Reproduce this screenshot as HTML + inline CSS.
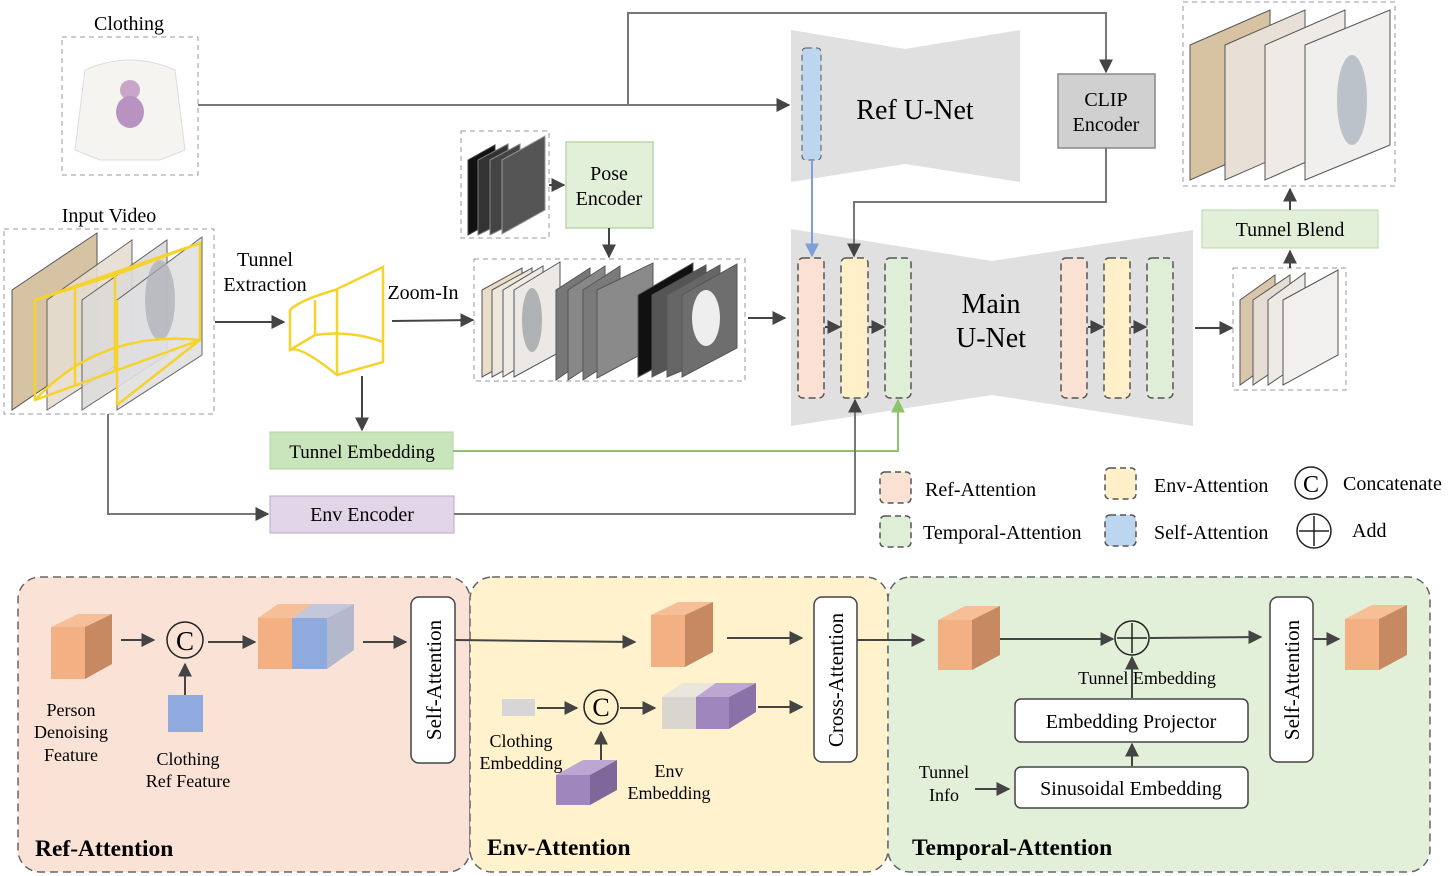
<!DOCTYPE html>
<html><head><meta charset="utf-8"><style>
html,body{margin:0;padding:0;background:#fff;}
svg{display:block;font-family:"Liberation Serif",serif;}
</style></head><body>
<svg width="1450" height="876" viewBox="0 0 1450 876" xmlns="http://www.w3.org/2000/svg">
<defs>
<marker id="a" viewBox="0 0 10 10" refX="9" refY="5" markerWidth="7" markerHeight="7" orient="auto"><path d="M0,0 L10,5 L0,10 z" fill="#444"/></marker>
<marker id="ab" viewBox="0 0 10 10" refX="9" refY="5" markerWidth="7" markerHeight="7" orient="auto"><path d="M0,0 L10,5 L0,10 z" fill="#7f9fd6"/></marker>
<marker id="ag" viewBox="0 0 10 10" refX="9" refY="5" markerWidth="7" markerHeight="7" orient="auto"><path d="M0,0 L10,5 L0,10 z" fill="#8cc46e"/></marker>
</defs>

<!-- Clothing -->
<text x="129" y="30" font-size="20" text-anchor="middle">Clothing</text>
<rect x="62" y="37" width="136" height="138" fill="none" stroke="#999" stroke-dasharray="5,4"/>
<path d="M85,70 Q130,50 175,70 L185,150 L160,160 L100,160 L75,150 Z" fill="#f6f4f0" stroke="#ddd"/>
<circle cx="130" cy="90" r="10" fill="#c9a6c9"/><ellipse cx="130" cy="112" rx="14" ry="16" fill="#b892c0"/>

<!-- Input video -->
<text x="109" y="222" font-size="20" text-anchor="middle">Input Video</text>
<rect x="4" y="229" width="210" height="185" fill="none" stroke="#999" stroke-dasharray="5,4"/>
<polygon points="12,290 97,233 97,352 12,410" fill="#d6c3a4" stroke="#555"/>
<polygon points="47,300 132,240 132,355 47,410" fill="#e6ddd0" stroke="#555" opacity="0.9"/>
<polygon points="82,300 167,240 167,355 82,410" fill="#dcdad8" stroke="#555" opacity="0.9"/>
<polygon points="117,300 202,237 202,355 117,410" fill="#e0e0e2" stroke="#555" opacity="0.9"/>
<ellipse cx="160" cy="300" rx="15" ry="40" fill="#a9adb4" opacity="0.7"/>
<g fill="none" stroke="#f5d22c" stroke-width="2.5">
<polygon points="35,300 200,243 200,340 35,400"/>
<polyline points="35,300 115,275 200,243"/>
<line x1="75" y1="285" x2="75" y2="385"/><line x1="115" y1="272" x2="115" y2="370"/>
<path d="M35,400 Q100,330 200,340"/>
<line x1="117" y1="300" x2="117" y2="405"/><line x1="117" y1="405" x2="200" y2="340"/>
</g>
<text x="265" y="266" font-size="20" text-anchor="middle">Tunnel</text>
<text x="265" y="291" font-size="20" text-anchor="middle">Extraction</text>
<line x1="215" y1="322" x2="284" y2="322" stroke="#444" stroke-width="2" marker-end="url(#a)"/>
<g fill="none" stroke="#f5d22c" stroke-width="2.5">
<path d="M290,310 Q300,300 335,290 L383,267 L383,362 L337,375 Q300,345 290,350 Z"/>
<line x1="315" y1="300" x2="315" y2="335"/><line x1="290" y1="350" x2="315" y2="335"/>
<path d="M315,335 Q350,330 383,342"/><line x1="337" y1="290" x2="337" y2="375"/>
</g>
<text x="423" y="299" font-size="20" text-anchor="middle">Zoom-In</text>
<line x1="392" y1="321" x2="473" y2="320" stroke="#444" stroke-width="2" marker-end="url(#a)"/>
<line x1="362" y1="376" x2="362" y2="430" stroke="#444" stroke-width="2" marker-end="url(#a)"/>

<!-- Pose -->
<rect x="461" y="131" width="88" height="107" fill="none" stroke="#999" stroke-dasharray="5,4"/>
<polygon points="468,160 495,145 495,220 468,235" fill="#111" stroke="#444"/>
<polygon points="478,160 508,144 508,220 478,235" fill="#333" stroke="#777"/>
<polygon points="490,160 520,144 520,220 490,235" fill="#444" stroke="#888"/>
<polygon points="502,160 545,136 545,210 502,234" fill="#555" stroke="#999"/>
<line x1="549" y1="185" x2="564" y2="185" stroke="#444" stroke-width="2" marker-end="url(#a)"/>
<rect x="566" y="142" width="87" height="86" fill="#e2f0d9" stroke="#b7d9a8" stroke-width="1.5"/>
<text x="609" y="180" font-size="20" text-anchor="middle">Pose</text>
<text x="609" y="205" font-size="20" text-anchor="middle">Encoder</text>
<line x1="609" y1="228" x2="609" y2="257" stroke="#444" stroke-width="2" marker-end="url(#a)"/>

<!-- Input stacks -->
<rect x="474" y="259" width="271" height="122" fill="none" stroke="#999" stroke-dasharray="5,4"/>
<g stroke="#555">
<polygon points="482,290 522,268 522,355 482,377" fill="#e9dcc8"/>
<polygon points="492,290 532,268 532,355 492,377" fill="#efe6db"/>
<polygon points="503,290 543,266 543,353 503,377" fill="#eeeae6"/>
<polygon points="514,290 560,262 560,352 514,377" fill="#ebe8e5"/>
<polygon points="556,290 590,268 590,356 556,380" fill="#777"/>
<polygon points="568,290 605,266 605,356 568,380" fill="#888"/>
<polygon points="583,290 620,266 620,356 583,380" fill="#7a7a7a"/>
<polygon points="597,290 653,263 653,348 597,378" fill="#8a8a8a"/>
<polygon points="638,295 693,263 693,348 638,377" fill="#111"/>
<polygon points="652,295 706,265 706,350 652,377" fill="#555"/>
<polygon points="667,295 720,265 720,355 667,377" fill="#666"/>
<polygon points="682,295 737,264 737,348 682,377" fill="#6e6e6e"/>
</g>
<ellipse cx="706" cy="318" rx="14" ry="28" fill="#eee"/>
<ellipse cx="532" cy="320" rx="10" ry="32" fill="#8a8d94" opacity="0.6"/>
<line x1="748" y1="318" x2="785" y2="318" stroke="#444" stroke-width="2" marker-end="url(#a)"/>

<!-- Tunnel Embedding / Env Encoder boxes -->
<rect x="270" y="432" width="183" height="37" fill="#c9e5bb" stroke="#b0d69c"/>
<text x="362" y="458" font-size="19" text-anchor="middle">Tunnel Embedding</text>
<rect x="270" y="496" width="184" height="37" fill="#e1d5e7" stroke="#b8a9c9"/>
<text x="362" y="521" font-size="20" text-anchor="middle">Env Encoder</text>
<polyline points="108,414 108,514 268,514" fill="none" stroke="#777" stroke-width="2" marker-end="url(#a)"/>

<!-- top connectors -->
<polyline points="198,105 628,105 628,13 1106,13 1106,72" fill="none" stroke="#777" stroke-width="2" marker-end="url(#a)"/>
<line x1="628" y1="105" x2="789" y2="105" stroke="#777" stroke-width="2" marker-end="url(#a)"/>

<!-- Ref U-Net -->
<polygon points="791,30 905,49 1020,30 1020,182 905,164 791,182" fill="#e0e0e0"/>
<rect x="802" y="48" width="19" height="112" rx="4" fill="#bcd6ef" stroke="#555" stroke-dasharray="6,4"/>
<text x="915" y="119" font-size="28" text-anchor="middle">Ref U-Net</text>

<!-- CLIP -->
<rect x="1058" y="74" width="97" height="74" fill="#d0d0d0" stroke="#888" stroke-width="1.5"/>
<text x="1106" y="106" font-size="20" text-anchor="middle">CLIP</text>
<text x="1106" y="131" font-size="20" text-anchor="middle">Encoder</text>

<!-- Main U-Net -->
<polygon points="791,229 992,261 1193,230 1193,426 992,395 791,426" fill="#e0e0e0"/>
<g stroke="#555" stroke-dasharray="7,4" stroke-width="1.5">
<rect x="798" y="258" width="26" height="140" rx="5" fill="#fbe1d4"/>
<rect x="841" y="258" width="27" height="140" rx="5" fill="#fff0c9"/>
<rect x="885" y="258" width="26" height="140" rx="5" fill="#dfeed6"/>
<rect x="1061" y="258" width="26" height="140" rx="5" fill="#fbe1d4"/>
<rect x="1104" y="258" width="26" height="140" rx="5" fill="#fff0c9"/>
<rect x="1147" y="258" width="26" height="140" rx="5" fill="#dfeed6"/>
</g>
<g stroke="#444" stroke-width="2" marker-end="url(#a)">
<line x1="825" y1="327" x2="840" y2="327"/><line x1="869" y1="327" x2="884" y2="327"/>
<line x1="1088" y1="327" x2="1103" y2="327"/><line x1="1131" y1="327" x2="1146" y2="327"/>
</g>
<text x="991" y="313" font-size="28" text-anchor="middle">Main</text>
<text x="991" y="347" font-size="28" text-anchor="middle">U-Net</text>
<line x1="1195" y1="328" x2="1232" y2="328" stroke="#444" stroke-width="2" marker-end="url(#a)"/>

<!-- connectors into main U-Net (drawn on top) -->
<line x1="812" y1="160" x2="812" y2="256" stroke="#7f9fd6" stroke-width="2" marker-end="url(#ab)"/>
<polyline points="1106,148 1106,202 854,202 854,256" fill="none" stroke="#777" stroke-width="2" marker-end="url(#a)"/>
<polyline points="453,451 898,451 898,400" fill="none" stroke="#8cc46e" stroke-width="2" marker-end="url(#ag)"/>
<polyline points="454,514 855,514 855,400" fill="none" stroke="#777" stroke-width="2" marker-end="url(#a)"/>

<!-- output -->
<rect x="1233" y="268" width="113" height="122" fill="none" stroke="#999" stroke-dasharray="5,4"/>
<g stroke="#555">
<polygon points="1240,300 1275,275 1275,360 1240,385" fill="#d8c6aa"/>
<polygon points="1253,300 1290,275 1290,360 1253,385" fill="#e5ddd3"/>
<polygon points="1268,300 1305,273 1305,360 1268,385" fill="#eeeae5"/>
<polygon points="1283,300 1338,270 1338,355 1283,385" fill="#f2f0ee"/>
</g>
<line x1="1290" y1="268" x2="1290" y2="251" stroke="#444" stroke-width="2" marker-end="url(#a)"/>
<rect x="1202" y="210" width="176" height="38" fill="#e2f0d9" stroke="#b7d9a8"/>
<text x="1290" y="236" font-size="20" text-anchor="middle">Tunnel Blend</text>
<line x1="1290" y1="210" x2="1290" y2="189" stroke="#444" stroke-width="2" marker-end="url(#a)"/>
<rect x="1183" y="2" width="212" height="184" fill="none" stroke="#999" stroke-dasharray="5,4"/>
<g stroke="#555">
<polygon points="1190,45 1270,10 1270,145 1190,180" fill="#d7c2a1"/>
<polygon points="1225,45 1305,10 1305,145 1225,180" fill="#e8e0d6"/>
<polygon points="1265,45 1345,10 1345,145 1265,180" fill="#eeeae6"/>
<polygon points="1305,45 1390,10 1390,145 1305,180" fill="#f1efed"/>
</g>
<ellipse cx="1352" cy="100" rx="15" ry="45" fill="#9aa3b0" opacity="0.6"/>

<!-- legend -->
<g stroke="#555" stroke-dasharray="6,4" stroke-width="1.5">
<rect x="880" y="472" width="31" height="31" rx="5" fill="#fbe1d4"/>
<rect x="880" y="516" width="31" height="31" rx="5" fill="#dfeed6"/>
<rect x="1105" y="468" width="31" height="31" rx="5" fill="#fff0c9"/>
<rect x="1105" y="515" width="31" height="31" rx="5" fill="#bcd6ef"/>
</g>
<g font-size="20">
<text x="925" y="496">Ref-Attention</text>
<text x="923" y="539">Temporal-Attention</text>
<text x="1154" y="492">Env-Attention</text>
<text x="1154" y="539">Self-Attention</text>
<text x="1343" y="490">Concatenate</text>
<text x="1352" y="537">Add</text>
</g>
<circle cx="1311" cy="483" r="16" fill="none" stroke="#222" stroke-width="1.5"/>
<text x="1311" y="492" font-size="24" text-anchor="middle">C</text>
<circle cx="1314" cy="531" r="17" fill="none" stroke="#222" stroke-width="1.5"/>
<line x1="1299" y1="531" x2="1329" y2="531" stroke="#222" stroke-width="1.5"/><line x1="1314" y1="516" x2="1314" y2="546" stroke="#222" stroke-width="1.5"/>

<!-- bottom panels -->
<rect x="18" y="577" width="452" height="295" rx="22" fill="#fae3d6" stroke="#666" stroke-dasharray="8,5" stroke-width="1.5"/>
<rect x="470" y="577" width="418" height="295" rx="22" fill="#fff2cc" stroke="#666" stroke-dasharray="8,5" stroke-width="1.5"/>
<rect x="888" y="577" width="542" height="295" rx="22" fill="#e2efd9" stroke="#666" stroke-dasharray="8,5" stroke-width="1.5"/>

<!-- Ref-Attention -->
<polygon points="51,627 85,627 85,679 51,679" fill="#f3b083"/>
<polygon points="51,627 78,614 112,614 85,627" fill="#f6bf97"/>
<polygon points="85,627 112,614 112,664 85,679" fill="#c68961"/>
<line x1="121" y1="640" x2="154" y2="640" stroke="#444" stroke-width="2" marker-end="url(#a)"/>
<circle cx="185" cy="640" r="18" fill="none" stroke="#222" stroke-width="1.5"/>
<text x="185" y="650" font-size="27" text-anchor="middle">C</text>
<rect x="168" y="695" width="35" height="37" fill="#8eaadf"/>
<line x1="185" y1="695" x2="185" y2="664" stroke="#444" stroke-width="2" marker-end="url(#a)"/>
<line x1="208" y1="642" x2="255" y2="642" stroke="#444" stroke-width="2" marker-end="url(#a)"/>
<polygon points="258,618 292,618 292,669 258,669" fill="#f3b083"/>
<polygon points="258,618 278,604 312,604 292,618" fill="#f6bf97"/>
<polygon points="292,618 327,618 327,669 292,669" fill="#8eaadf"/>
<polygon points="292,618 312,604 354,604 327,618" fill="#c3c7d9"/>
<polygon points="327,618 354,604 354,650 327,669" fill="#b4b8cc"/>
<line x1="363" y1="642" x2="406" y2="642" stroke="#444" stroke-width="2" marker-end="url(#a)"/>
<rect x="411" y="597" width="44" height="166" rx="8" fill="#fff" stroke="#444" stroke-width="1.5"/>
<text transform="translate(441,680) rotate(-90)" font-size="21" text-anchor="middle">Self-Attention</text>
<g font-size="18" text-anchor="middle">
<text x="71" y="716">Person</text><text x="71" y="738">Denoising</text><text x="71" y="761">Feature</text>
<text x="188" y="765">Clothing</text><text x="188" y="787">Ref Feature</text>
</g>
<text x="35" y="856" font-size="23.5" font-weight="bold">Ref-Attention</text>

<!-- Env-Attention -->
<line x1="455" y1="640" x2="635" y2="642" stroke="#444" stroke-width="2" marker-end="url(#a)"/>
<polygon points="651,615 685,615 685,667 651,667" fill="#f3b083"/>
<polygon points="651,615 678,602 713,602 685,615" fill="#f6bf97"/>
<polygon points="685,615 713,602 713,652 685,667" fill="#c68961"/>
<line x1="727" y1="638" x2="802" y2="638" stroke="#444" stroke-width="2" marker-end="url(#a)"/>
<rect x="814" y="597" width="43" height="165" rx="8" fill="#fff" stroke="#444" stroke-width="1.5"/>
<text transform="translate(843,680) rotate(-90)" font-size="21" text-anchor="middle">Cross-Attention</text>
<rect x="502" y="699" width="33" height="17" fill="#d6d6d6"/>
<line x1="537" y1="708" x2="577" y2="708" stroke="#444" stroke-width="2" marker-end="url(#a)"/>
<circle cx="601" cy="707" r="17" fill="none" stroke="#222" stroke-width="1.5"/>
<text x="601" y="716" font-size="26" text-anchor="middle">C</text>
<line x1="620" y1="708" x2="655" y2="708" stroke="#444" stroke-width="2" marker-end="url(#a)"/>
<polygon points="662,697 696,697 696,729 662,729" fill="#d9d6d0"/>
<polygon points="662,697 682,683 716,683 696,697" fill="#e9e6dc"/>
<polygon points="696,697 729,697 729,729 696,729" fill="#9f86bd"/>
<polygon points="696,697 716,683 756,683 729,697" fill="#bba7d2"/>
<polygon points="729,697 756,683 756,712 729,729" fill="#8a72a8"/>
<line x1="758" y1="707" x2="802" y2="707" stroke="#444" stroke-width="2" marker-end="url(#a)"/>
<polygon points="556,775 590,775 590,805 556,805" fill="#9f86bd"/>
<polygon points="556,775 583,760 617,760 590,775" fill="#bba7d2"/>
<polygon points="590,775 617,760 617,790 590,805" fill="#7d679b"/>
<line x1="601" y1="760" x2="601" y2="732" stroke="#444" stroke-width="2" marker-end="url(#a)"/>
<g font-size="18" text-anchor="middle">
<text x="521" y="747">Clothing</text><text x="521" y="769">Embedding</text>
<text x="669" y="777">Env</text><text x="669" y="799">Embedding</text>
</g>
<text x="487" y="855" font-size="23.5" font-weight="bold">Env-Attention</text>

<!-- Temporal-Attention -->
<line x1="857" y1="640" x2="924" y2="640" stroke="#444" stroke-width="2" marker-end="url(#a)"/>
<polygon points="938,620 972,620 972,670 938,670" fill="#f3b083"/>
<polygon points="938,620 965,606 1000,606 972,620" fill="#f6bf97"/>
<polygon points="972,620 1000,606 1000,655 972,670" fill="#c68961"/>
<line x1="1000" y1="639" x2="1113" y2="639" stroke="#444" stroke-width="2" marker-end="url(#a)"/>
<circle cx="1132" cy="638" r="17" fill="none" stroke="#222" stroke-width="1.5"/>
<line x1="1117" y1="638" x2="1147" y2="638" stroke="#222" stroke-width="1.5"/><line x1="1132" y1="623" x2="1132" y2="653" stroke="#222" stroke-width="1.5"/>
<line x1="1150" y1="638" x2="1261" y2="637" stroke="#444" stroke-width="2" marker-end="url(#a)"/>
<rect x="1270" y="597" width="43" height="165" rx="8" fill="#fff" stroke="#444" stroke-width="1.5"/>
<text transform="translate(1299,680) rotate(-90)" font-size="21" text-anchor="middle">Self-Attention</text>
<line x1="1313" y1="639" x2="1339" y2="639" stroke="#444" stroke-width="2" marker-end="url(#a)"/>
<polygon points="1345,619 1379,619 1379,670 1345,670" fill="#f3b083"/>
<polygon points="1345,619 1372,605 1407,605 1379,619" fill="#f6bf97"/>
<polygon points="1379,619 1407,605 1407,655 1379,670" fill="#c68961"/>
<line x1="1132" y1="698" x2="1132" y2="657" stroke="#444" stroke-width="2" marker-end="url(#a)"/>
<text x="1147" y="684" font-size="18" text-anchor="middle">Tunnel Embedding</text>
<rect x="1015" y="699" width="233" height="43" rx="6" fill="#fff" stroke="#444" stroke-width="1.5"/>
<text x="1131" y="728" font-size="20" text-anchor="middle">Embedding Projector</text>
<line x1="1132" y1="766" x2="1132" y2="744" stroke="#444" stroke-width="2" marker-end="url(#a)"/>
<rect x="1015" y="767" width="233" height="41" rx="6" fill="#fff" stroke="#444" stroke-width="1.5"/>
<text x="1131" y="795" font-size="20" text-anchor="middle">Sinusoidal Embedding</text>
<text x="944" y="778" font-size="18" text-anchor="middle">Tunnel</text>
<text x="944" y="801" font-size="18" text-anchor="middle">Info</text>
<line x1="975" y1="789" x2="1009" y2="789" stroke="#444" stroke-width="2" marker-end="url(#a)"/>
<text x="912" y="855" font-size="23.5" font-weight="bold">Temporal-Attention</text>
</svg>
</body></html>
